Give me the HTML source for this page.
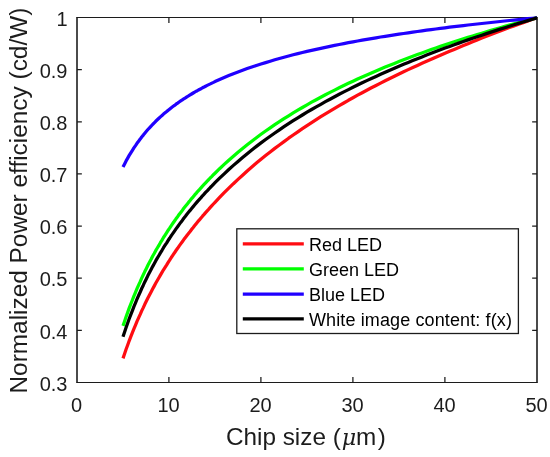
<!DOCTYPE html>
<html><head><meta charset="utf-8"><title>Normalized power efficiency vs chip size</title>
<style>html,body{margin:0;padding:0;background:#fff;width:550px;height:457px;overflow:hidden}svg{display:block}</style>
</head><body>
<svg width="550" height="457" viewBox="0 0 550 457">
<rect width="550" height="457" fill="#fff"/>
<path d="M76.25,17.5H537.75M76.25,382.5H537.75" stroke="#1c1c1c" stroke-width="1.15" fill="none"/>
<path d="M77.0,17.5V382.5M537.0,17.5V382.5" stroke="#111" stroke-width="1.5" fill="none"/>
<path d="M168.90,382.5V376.9M168.90,17.5V23.1M260.90,382.5V376.9M260.90,17.5V23.1M352.90,382.5V376.9M352.90,17.5V23.1M444.90,382.5V376.9M444.90,17.5V23.1M77.0,330.36H81.85M537.0,330.36H532.15M77.0,278.21H81.85M537.0,278.21H532.15M77.0,226.07H81.85M537.0,226.07H532.15M77.0,173.93H81.85M537.0,173.93H532.15M77.0,121.79H81.85M537.0,121.79H532.15M77.0,69.64H81.85M537.0,69.64H532.15" stroke="#1c1c1c" stroke-width="1.25" fill="none"/>
<g fill="none" stroke-width="3.25" stroke-linejoin="round">
<polyline stroke="#ff0c12" points="123.0,358.4 124.6,353.8 126.1,349.3 127.7,345.0 129.2,340.8 130.8,336.7 132.4,332.7 133.9,328.9 135.5,325.1 137.0,321.4 138.6,317.9 140.2,314.4 141.7,310.9 143.3,307.6 144.8,304.3 146.4,301.1 147.9,298.0 149.5,294.9 151.1,291.9 152.6,289.0 154.2,286.1 155.7,283.3 157.3,280.5 158.9,277.7 160.4,275.1 162.0,272.4 163.5,269.8 165.1,267.3 166.7,264.8 168.2,262.3 169.8,259.9 171.3,257.5 172.9,255.1 174.5,252.8 176.0,250.5 177.6,248.3 179.1,246.1 180.7,243.9 182.3,241.7 183.8,239.6 185.4,237.5 186.9,235.5 188.5,233.4 190.1,231.4 191.6,229.4 193.2,227.5 194.7,225.5 196.3,223.6 197.8,221.7 199.4,219.9 201.0,218.0 202.5,216.2 204.1,214.4 205.6,212.6 207.2,210.8 208.8,209.1 210.3,207.4 211.9,205.6 213.4,204.0 215.0,202.3 219.6,197.4 224.2,192.7 228.8,188.2 233.4,183.7 238.0,179.4 242.6,175.2 247.2,171.0 251.8,167.0 256.4,163.1 261.0,159.3 265.6,155.6 270.2,152.0 274.8,148.4 279.4,145.0 284.0,141.6 288.6,138.2 293.2,135.0 297.8,131.8 302.4,128.7 307.0,125.6 311.6,122.6 316.2,119.6 320.8,116.7 325.4,113.9 330.0,111.1 334.6,108.3 339.2,105.6 343.8,103.0 348.4,100.3 353.0,97.8 357.6,95.2 362.2,92.7 366.8,90.3 371.4,87.8 376.0,85.5 380.6,83.1 385.2,80.8 389.8,78.5 394.4,76.2 399.0,74.0 403.6,71.8 408.2,69.6 412.8,67.5 417.4,65.4 422.0,63.3 426.6,61.3 431.2,59.2 435.8,57.2 440.4,55.2 445.0,53.3 449.6,51.3 454.2,49.4 458.8,47.5 463.4,45.6 468.0,43.7 472.6,41.8 477.2,40.0 481.8,38.1 486.4,36.3 491.0,34.5 495.6,32.8 500.2,31.0 504.8,29.3 509.4,27.6 514.0,25.9 518.6,24.2 523.2,22.6 527.8,20.9 532.4,19.3 537.0,17.7"/>
<polyline stroke="#00ff00" points="123.0,325.9 124.6,321.3 126.1,316.8 127.7,312.4 129.2,308.1 130.8,304.0 132.4,300.0 133.9,296.1 135.5,292.3 137.0,288.7 138.6,285.1 140.2,281.6 141.7,278.1 143.3,274.8 144.8,271.6 146.4,268.4 147.9,265.3 149.5,262.2 151.1,259.3 152.6,256.3 154.2,253.5 155.7,250.7 157.3,248.0 158.9,245.3 160.4,242.7 162.0,240.1 163.5,237.5 165.1,235.1 166.7,232.6 168.2,230.2 169.8,227.9 171.3,225.6 172.9,223.3 174.5,221.0 176.0,218.8 177.6,216.7 179.1,214.5 180.7,212.4 182.3,210.4 183.8,208.3 185.4,206.3 186.9,204.4 188.5,202.4 190.1,200.5 191.6,198.6 193.2,196.8 194.7,194.9 196.3,193.1 197.8,191.3 199.4,189.6 201.0,187.8 202.5,186.1 204.1,184.4 205.6,182.8 207.2,181.1 208.8,179.5 210.3,177.9 211.9,176.3 213.4,174.7 215.0,173.2 219.6,168.7 224.2,164.4 228.8,160.2 233.4,156.2 238.0,152.3 242.6,148.5 247.2,144.8 251.8,141.2 256.4,137.7 261.0,134.3 265.6,131.0 270.2,127.8 274.8,124.7 279.4,121.7 284.0,118.7 288.6,115.8 293.2,112.9 297.8,110.2 302.4,107.5 307.0,104.8 311.6,102.2 316.2,99.7 320.8,97.2 325.4,94.8 330.0,92.4 334.6,90.1 339.2,87.8 343.8,85.5 348.4,83.3 353.0,81.2 357.6,79.1 362.2,77.0 366.8,74.9 371.4,72.9 376.0,70.9 380.6,69.0 385.2,67.1 389.8,65.2 394.4,63.4 399.0,61.6 403.6,59.8 408.2,58.0 412.8,56.3 417.4,54.6 422.0,52.9 426.6,51.3 431.2,49.6 435.8,48.0 440.4,46.4 445.0,44.9 449.6,43.3 454.2,41.8 458.8,40.3 463.4,38.9 468.0,37.4 472.6,36.0 477.2,34.6 481.8,33.2 486.4,31.8 491.0,30.4 495.6,29.1 500.2,27.7 504.8,26.4 509.4,25.1 514.0,23.9 518.6,22.6 523.2,21.4 527.8,20.1 532.4,18.9 537.0,17.7"/>
<polyline stroke="#2000ff" points="123.0,167.0 124.6,163.9 126.1,160.9 127.7,158.1 129.2,155.4 130.8,152.8 132.4,150.3 133.9,147.9 135.5,145.6 137.0,143.3 138.6,141.2 140.2,139.1 141.7,137.0 143.3,135.1 144.8,133.2 146.4,131.3 147.9,129.5 149.5,127.8 151.1,126.1 152.6,124.5 154.2,122.9 155.7,121.3 157.3,119.8 158.9,118.3 160.4,116.9 162.0,115.5 163.5,114.1 165.1,112.8 166.7,111.5 168.2,110.2 169.8,108.9 171.3,107.7 172.9,106.5 174.5,105.4 176.0,104.2 177.6,103.1 179.1,102.0 180.7,100.9 182.3,99.9 183.8,98.8 185.4,97.8 186.9,96.8 188.5,95.9 190.1,94.9 191.6,94.0 193.2,93.0 194.7,92.1 196.3,91.2 197.8,90.4 199.4,89.5 201.0,88.7 202.5,87.8 204.1,87.0 205.6,86.2 207.2,85.4 208.8,84.6 210.3,83.9 211.9,83.1 213.4,82.4 215.0,81.6 219.6,79.5 224.2,77.5 228.8,75.6 233.4,73.7 238.0,72.0 242.6,70.3 247.2,68.6 251.8,67.0 256.4,65.5 261.0,64.0 265.6,62.6 270.2,61.2 274.8,59.8 279.4,58.5 284.0,57.2 288.6,56.0 293.2,54.8 297.8,53.7 302.4,52.5 307.0,51.4 311.6,50.4 316.2,49.3 320.8,48.3 325.4,47.3 330.0,46.3 334.6,45.4 339.2,44.5 343.8,43.6 348.4,42.7 353.0,41.8 357.6,41.0 362.2,40.2 366.8,39.4 371.4,38.6 376.0,37.8 380.6,37.0 385.2,36.3 389.8,35.6 394.4,34.9 399.0,34.2 403.6,33.5 408.2,32.8 412.8,32.1 417.4,31.5 422.0,30.8 426.6,30.2 431.2,29.6 435.8,29.0 440.4,28.4 445.0,27.8 449.6,27.2 454.2,26.7 458.8,26.1 463.4,25.6 468.0,25.0 472.6,24.5 477.2,24.0 481.8,23.5 486.4,23.0 491.0,22.5 495.6,22.0 500.2,21.5 504.8,21.0 509.4,20.5 514.0,20.1 518.6,19.6 523.2,19.2 527.8,18.7 532.4,18.3 537.0,17.9"/>
<polyline stroke="#000000" points="123.0,336.8 124.6,332.0 126.1,327.5 127.7,323.0 129.2,318.8 130.8,314.6 132.4,310.6 133.9,306.6 135.5,302.8 137.0,299.1 138.6,295.5 140.2,292.0 141.7,288.5 143.3,285.2 144.8,281.9 146.4,278.7 147.9,275.6 149.5,272.5 151.1,269.5 152.6,266.6 154.2,263.7 155.7,260.9 157.3,258.2 158.9,255.5 160.4,252.9 162.0,250.3 163.5,247.7 165.1,245.2 166.7,242.8 168.2,240.3 169.8,238.0 171.3,235.6 172.9,233.4 174.5,231.1 176.0,228.9 177.6,226.7 179.1,224.6 180.7,222.4 182.3,220.4 183.8,218.3 185.4,216.3 186.9,214.3 188.5,212.3 190.1,210.4 191.6,208.5 193.2,206.6 194.7,204.8 196.3,202.9 197.8,201.1 199.4,199.3 201.0,197.6 202.5,195.8 204.1,194.1 205.6,192.4 207.2,190.8 208.8,189.1 210.3,187.5 211.9,185.9 213.4,184.3 215.0,182.7 219.6,178.2 224.2,173.8 228.8,169.5 233.4,165.4 238.0,161.4 242.6,157.5 247.2,153.7 251.8,150.0 256.4,146.4 261.0,142.9 265.6,139.5 270.2,136.2 274.8,133.0 279.4,129.8 284.0,126.7 288.6,123.7 293.2,120.7 297.8,117.8 302.4,115.0 307.0,112.2 311.6,109.5 316.2,106.9 320.8,104.3 325.4,101.7 330.0,99.2 334.6,96.7 339.2,94.3 343.8,91.9 348.4,89.6 353.0,87.3 357.6,85.0 362.2,82.8 366.8,80.6 371.4,78.5 376.0,76.4 380.6,74.3 385.2,72.2 389.8,70.2 394.4,68.2 399.0,66.2 403.6,64.3 408.2,62.4 412.8,60.5 417.4,58.7 422.0,56.9 426.6,55.1 431.2,53.3 435.8,51.5 440.4,49.8 445.0,48.1 449.6,46.4 454.2,44.7 458.8,43.1 463.4,41.5 468.0,39.9 472.6,38.3 477.2,36.7 481.8,35.2 486.4,33.6 491.0,32.1 495.6,30.6 500.2,29.1 504.8,27.7 509.4,26.2 514.0,24.8 518.6,23.4 523.2,22.0 527.8,20.6 532.4,19.2 537.0,17.9"/>
</g>
<g font-family="'Liberation Sans', Arial, Helvetica, sans-serif" font-size="20" fill="#1c1c1c">
<text x="76.5" y="411.8" text-anchor="middle">0</text>
<text x="168.5" y="411.8" text-anchor="middle">10</text>
<text x="260.5" y="411.8" text-anchor="middle">20</text>
<text x="352.5" y="411.8" text-anchor="middle">30</text>
<text x="444.5" y="411.8" text-anchor="middle">40</text>
<text x="536.5" y="411.8" text-anchor="middle">50</text>
<text x="67.5" y="390.7" text-anchor="end">0.3</text>
<text x="67.5" y="338.6" text-anchor="end">0.4</text>
<text x="67.5" y="286.4" text-anchor="end">0.5</text>
<text x="67.5" y="234.3" text-anchor="end">0.6</text>
<text x="67.5" y="182.1" text-anchor="end">0.7</text>
<text x="67.5" y="130.0" text-anchor="end">0.8</text>
<text x="67.5" y="77.8" text-anchor="end">0.9</text>
<text x="67.5" y="25.7" text-anchor="end">1</text>
</g>
<g font-family="'Liberation Sans', Arial, Helvetica, sans-serif" font-size="24.3" fill="#1c1c1c"><text x="226.0" y="444.6">Chip size (</text><text x="341.8" y="444.6" font-family="'DejaVu Serif', serif" font-style="italic" font-size="22.3">&#956;</text><text x="356.0" y="444.6" letter-spacing="1.4">m)</text></g>
<text transform="translate(27.0,200.6) rotate(-90)" x="0" y="0" text-anchor="middle" font-family="'Liberation Sans', Arial, Helvetica, sans-serif" font-size="24.4" fill="#1c1c1c">Normalized Power efficiency (cd/W)</text>
<rect x="236.8" y="228.8" width="281.6" height="104.7" fill="#fff" stroke="#1c1c1c" stroke-width="1.3"/>
<line x1="242.8" y1="243.9" x2="303.8" y2="243.9" stroke="#ff0c12" stroke-width="3.25"/>
<text x="309.0" y="251.2" font-family="'Liberation Sans', Arial, Helvetica, sans-serif" font-size="18" fill="#000">Red LED</text>
<line x1="242.8" y1="268.9" x2="303.8" y2="268.9" stroke="#00ff00" stroke-width="3.25"/>
<text x="309.0" y="276.2" font-family="'Liberation Sans', Arial, Helvetica, sans-serif" font-size="18" fill="#000">Green LED</text>
<line x1="242.8" y1="294.0" x2="303.8" y2="294.0" stroke="#2000ff" stroke-width="3.25"/>
<text x="309.0" y="301.3" font-family="'Liberation Sans', Arial, Helvetica, sans-serif" font-size="18" fill="#000">Blue LED</text>
<line x1="242.8" y1="318.9" x2="303.8" y2="318.9" stroke="#000000" stroke-width="3.25"/>
<text x="309.0" y="326.2" letter-spacing="0.12" font-family="'Liberation Sans', Arial, Helvetica, sans-serif" font-size="18" fill="#000">White image content: f(x)</text>
</svg>
</body></html>
